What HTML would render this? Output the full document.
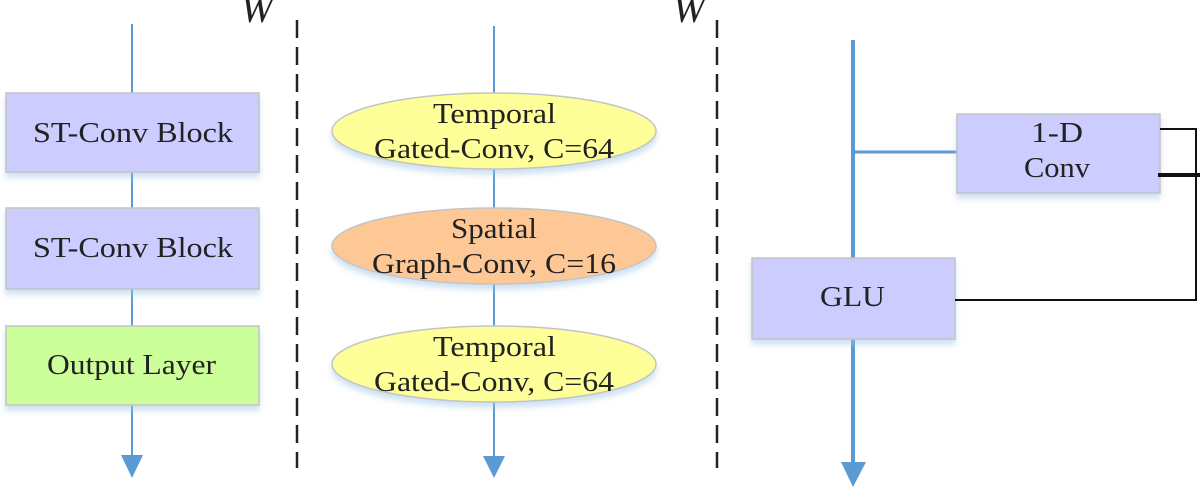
<!DOCTYPE html>
<html><head><meta charset="utf-8"><style>
html,body{margin:0;padding:0;background:#fff;width:1200px;height:488px;overflow:hidden}
text{font-family:"Liberation Serif","DejaVu Serif",serif}
</style></head><body>
<svg width="1200" height="488" viewBox="0 0 1200 488" xmlns="http://www.w3.org/2000/svg">
<defs>
<filter id="sh" x="-10%" y="-10%" width="120%" height="140%"><feDropShadow dx="0" dy="5" stdDeviation="3" flood-color="#9fc4e8" flood-opacity="0.5"/></filter>
</defs>
<line x1="132" y1="24" x2="132" y2="460" stroke="#5b9bd5" stroke-width="2"/>
<polygon points="121,455 143,455 132,478" fill="#5b9bd5"/>
<rect x="6" y="93" width="253" height="79" fill="#ccccff" stroke="#c4c4c4" stroke-width="1.5" filter="url(#sh)"/>
<rect x="6" y="208" width="253" height="81" fill="#ccccff" stroke="#c4c4c4" stroke-width="1.5" filter="url(#sh)"/>
<rect x="6" y="326" width="253" height="79" fill="#ccff99" stroke="#c4c4c4" stroke-width="1.5" filter="url(#sh)"/>
<line x1="297" y1="20" x2="297" y2="468" stroke="#222" stroke-width="2.5" stroke-dasharray="18,9"/>
<line x1="717" y1="20" x2="717" y2="468" stroke="#222" stroke-width="2.5" stroke-dasharray="18,9"/>
<line x1="494" y1="26" x2="494" y2="462" stroke="#5b9bd5" stroke-width="2"/>
<polygon points="483,456 505,456 494,478" fill="#5b9bd5"/>
<ellipse cx="494" cy="131" rx="162" ry="38" fill="#ffff99" stroke="#c4c4c4" stroke-width="1.5" filter="url(#sh)"/>
<ellipse cx="494" cy="246" rx="162" ry="38" fill="#fec896" stroke="#c4c4c4" stroke-width="1.5" filter="url(#sh)"/>
<ellipse cx="494" cy="364" rx="162" ry="38" fill="#ffff99" stroke="#c4c4c4" stroke-width="1.5" filter="url(#sh)"/>
<line x1="853" y1="40" x2="853" y2="466" stroke="#5b9bd5" stroke-width="4"/>
<polygon points="841,462 866,462 853,487" fill="#5b9bd5"/>
<line x1="853" y1="152" x2="958" y2="152" stroke="#5b9bd5" stroke-width="3"/>
<rect x="957" y="114" width="203" height="79" fill="#ccccff" stroke="#c4c4c4" stroke-width="1.5" filter="url(#sh)"/>
<rect x="752" y="258" width="203" height="81" fill="#ccccff" stroke="#c4c4c4" stroke-width="1.5" filter="url(#sh)"/>
<polyline points="1160,129 1196,129 1196,300 955,300" fill="none" stroke="#111" stroke-width="2"/>
<line x1="1158" y1="175" x2="1200" y2="175" stroke="#111" stroke-width="4"/>
<g font-family="Liberation Serif, DejaVu Serif, serif" fill="#222" lengthAdjust="spacingAndGlyphs">
<text x="33" y="142" font-size="29" textLength="200" lengthAdjust="spacingAndGlyphs">ST-Conv Block</text>
<text x="33" y="257" font-size="29" textLength="200" lengthAdjust="spacingAndGlyphs">ST-Conv Block</text>
<text x="47" y="374" font-size="28" textLength="169" lengthAdjust="spacingAndGlyphs">Output Layer</text>
<text x="433" y="123" font-size="28" textLength="123" lengthAdjust="spacingAndGlyphs">Temporal</text>
<text x="374" y="158" font-size="28" textLength="240" lengthAdjust="spacingAndGlyphs">Gated-Conv, C=64</text>
<text x="451" y="238" font-size="28" textLength="86" lengthAdjust="spacingAndGlyphs">Spatial</text>
<text x="372" y="273" font-size="28" textLength="244" lengthAdjust="spacingAndGlyphs">Graph-Conv, C=16</text>
<text x="433" y="356" font-size="28" textLength="123" lengthAdjust="spacingAndGlyphs">Temporal</text>
<text x="374" y="391" font-size="28" textLength="240" lengthAdjust="spacingAndGlyphs">Gated-Conv, C=64</text>
<text x="1031" y="142" font-size="28" textLength="52" lengthAdjust="spacingAndGlyphs">1-D</text>
<text x="1024" y="177" font-size="28" textLength="66" lengthAdjust="spacingAndGlyphs">Conv</text>
<text x="820" y="306" font-size="28" textLength="65" lengthAdjust="spacingAndGlyphs">GLU</text>
<text x="257" y="22" font-size="40" font-style="italic" text-anchor="middle">W</text>
<text x="689" y="22" font-size="40" font-style="italic" text-anchor="middle">W</text>
</g>
</svg>
</body></html>
